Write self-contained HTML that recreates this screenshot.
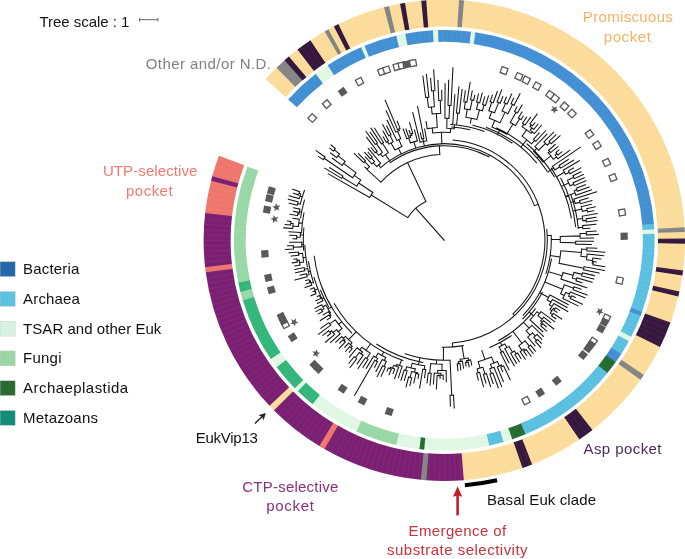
<!DOCTYPE html>
<html><head><meta charset="utf-8"><title>Phylogenetic tree</title>
<style>
html,body{margin:0;padding:0;background:#fff}
body{width:685px;height:559px;overflow:hidden;position:relative;font-family:"Liberation Sans",sans-serif}
svg{position:absolute;left:0;top:0;display:block}
text{font-family:"Liberation Sans",sans-serif}
</style></head><body>
<svg width="685" height="559" viewBox="0 0 685 559">
<rect width="685" height="559" fill="#fff"/>
<g id="rings">
<path d="M265.57 79.08A240.7 240.7 0 0 1 276.94 67.3L295.72 86.71A213.7 213.7 0 0 0 285.61 97.17Z" fill="#fbdc9b"/>
<path d="M276.49 67.74A240.7 240.7 0 0 1 284.96 59.89L302.84 80.12A213.7 213.7 0 0 0 295.32 87.1Z" fill="#858585"/>
<path d="M284.49 60.3A240.7 240.7 0 0 1 289.42 56.05L306.79 76.72A213.7 213.7 0 0 0 302.42 80.5Z" fill="#36173e"/>
<path d="M288.94 56.45A240.7 240.7 0 0 1 297.94 49.21L314.36 70.65A213.7 213.7 0 0 0 306.37 77.08Z" fill="#fbdc9b"/>
<path d="M297.44 49.6A240.7 240.7 0 0 1 310.92 39.93L325.88 62.41A213.7 213.7 0 0 0 313.91 70.99Z" fill="#36173e"/>
<path d="M310.4 40.28A240.7 240.7 0 0 1 325.23 31.12L338.58 54.58A213.7 213.7 0 0 0 325.42 62.72Z" fill="#fbdc9b"/>
<path d="M324.68 31.43A240.7 240.7 0 0 1 328.89 29.07L341.84 52.76A213.7 213.7 0 0 0 338.1 54.86Z" fill="#858585"/>
<path d="M328.34 29.37A240.7 240.7 0 0 1 334.46 26.12L346.78 50.15A213.7 213.7 0 0 0 341.35 53.03Z" fill="#fbdc9b"/>
<path d="M333.9 26.41A240.7 240.7 0 0 1 338.97 23.87L350.79 48.15A213.7 213.7 0 0 0 346.29 50.4Z" fill="#36173e"/>
<path d="M338.41 24.14A240.7 240.7 0 0 1 384.64 7.11L391.34 33.27A213.7 213.7 0 0 0 350.28 48.39Z" fill="#fbdc9b"/>
<path d="M384.03 7.27A240.7 240.7 0 0 1 389.54 5.91L395.68 32.2A213.7 213.7 0 0 0 390.79 33.41Z" fill="#858585"/>
<path d="M388.93 6.06A240.7 240.7 0 0 1 400.64 3.59L405.54 30.14A213.7 213.7 0 0 0 395.14 32.33Z" fill="#fbdc9b"/>
<path d="M400.02 3.71A240.7 240.7 0 0 1 405.61 2.73L409.95 29.38A213.7 213.7 0 0 0 404.99 30.25Z" fill="#36173e"/>
<path d="M404.99 2.83A240.7 240.7 0 0 1 421.86 0.65L424.37 27.53A213.7 213.7 0 0 0 409.4 29.47Z" fill="#fbdc9b"/>
<path d="M421.23 0.71A240.7 240.7 0 0 1 426.88 0.23L428.83 27.16A213.7 213.7 0 0 0 423.82 27.58Z" fill="#36173e"/>
<path d="M426.25 0.28A240.7 240.7 0 0 1 459.62 0.09L457.9 27.03A213.7 213.7 0 0 0 428.28 27.2Z" fill="#fbdc9b"/>
<path d="M458.99 0.05A240.7 240.7 0 0 1 464.65 0.46L462.37 27.37A213.7 213.7 0 0 0 457.35 27Z" fill="#858585"/>
<path d="M464.02 0.41A240.7 240.7 0 0 1 684.68 227.91L657.72 229.3A213.7 213.7 0 0 0 461.81 27.32Z" fill="#fbdc9b"/>
<path d="M684.65 227.28A240.7 240.7 0 0 1 684.87 232.53L657.89 233.4A213.7 213.7 0 0 0 657.69 228.74Z" fill="#858585"/>
<path d="M684.85 231.9A240.7 240.7 0 0 1 685 239.25L658 239.37A213.7 213.7 0 0 0 657.87 232.84Z" fill="#fbdc9b"/>
<path d="M684.99 238.62A240.7 240.7 0 0 1 684.97 244.29L657.97 243.84A213.7 213.7 0 0 0 657.99 238.81Z" fill="#36173e"/>
<path d="M684.98 243.66A240.7 240.7 0 0 1 683.02 271.09L656.24 267.64A213.7 213.7 0 0 0 657.98 243.28Z" fill="#fbdc9b"/>
<path d="M683.1 270.47A240.7 240.7 0 0 1 682.32 276.09L655.63 272.07A213.7 213.7 0 0 0 656.31 267.08Z" fill="#36173e"/>
<path d="M682.42 275.46A240.7 240.7 0 0 1 679.34 292.19L652.97 286.37A213.7 213.7 0 0 0 655.71 271.52Z" fill="#fbdc9b"/>
<path d="M679.47 291.58A240.7 240.7 0 0 1 678.2 297.1L651.96 290.73A213.7 213.7 0 0 0 653.09 285.82Z" fill="#36173e"/>
<path d="M678.35 296.49A240.7 240.7 0 0 1 670.27 323.22L644.92 313.92A213.7 213.7 0 0 0 652.1 290.19Z" fill="#fbdc9b"/>
<path d="M670.48 322.62A240.7 240.7 0 0 1 659.8 347.51L635.63 335.49A213.7 213.7 0 0 0 645.11 313.39Z" fill="#36173e"/>
<path d="M660.08 346.95A240.7 240.7 0 0 1 643.5 375.42L621.15 360.26A213.7 213.7 0 0 0 635.88 334.98Z" fill="#fbdc9b"/>
<path d="M643.85 374.9A240.7 240.7 0 0 1 640.14 380.25L618.17 364.55A213.7 213.7 0 0 0 621.47 359.8Z" fill="#858585"/>
<path d="M640.5 379.73A240.7 240.7 0 0 1 591.99 430.36L575.43 409.04A213.7 213.7 0 0 0 618.49 364.09Z" fill="#fbdc9b"/>
<path d="M592.49 429.97A240.7 240.7 0 0 1 578.9 439.85L563.8 417.47A213.7 213.7 0 0 0 575.87 408.7Z" fill="#36173e"/>
<path d="M579.42 439.5A240.7 240.7 0 0 1 531.54 464.63L521.75 439.47A213.7 213.7 0 0 0 564.26 417.15Z" fill="#fbdc9b"/>
<path d="M532.13 464.41A240.7 240.7 0 0 1 521.87 468.16L513.17 442.6A213.7 213.7 0 0 0 522.27 439.27Z" fill="#36173e"/>
<path d="M522.47 467.95A240.7 240.7 0 0 1 463.19 480.26L461.07 453.34A213.7 213.7 0 0 0 513.7 442.42Z" fill="#fbdc9b"/>
<path d="M463.81 480.21A240.7 240.7 0 0 1 425.83 480.29L427.91 453.37A213.7 213.7 0 0 0 461.62 453.3Z" fill="#7b1f72"/>
<path d="M426.46 480.34A240.7 240.7 0 0 1 420.18 479.79L422.89 452.92A213.7 213.7 0 0 0 428.46 453.41Z" fill="#858585"/>
<path d="M420.81 479.85A240.7 240.7 0 0 1 323.95 448.75L337.45 425.37A213.7 213.7 0 0 0 423.45 452.98Z" fill="#7b1f72"/>
<path d="M324.5 449.07A240.7 240.7 0 0 1 318.71 445.64L332.8 422.61A213.7 213.7 0 0 0 337.93 425.65Z" fill="#ee766c"/>
<path d="M319.25 445.97A240.7 240.7 0 0 1 273.51 409.91L292.66 390.88A213.7 213.7 0 0 0 333.28 422.9Z" fill="#7b1f72"/>
<path d="M273.95 410.35A240.7 240.7 0 0 1 269.13 405.38L288.77 386.86A213.7 213.7 0 0 0 293.06 391.28Z" fill="#fbdc9b"/>
<path d="M269.56 405.83A240.7 240.7 0 0 1 205.66 271.72L232.43 268.19A213.7 213.7 0 0 0 289.16 387.27Z" fill="#7b1f72"/>
<path d="M205.74 272.34A240.7 240.7 0 0 1 205.03 266.5L231.87 263.56A213.7 213.7 0 0 0 232.5 268.75Z" fill="#ee766c"/>
<path d="M205.1 267.13A240.7 240.7 0 0 1 205.22 212.43L232.04 215.55A213.7 213.7 0 0 0 231.93 264.12Z" fill="#7b1f72"/>
<path d="M205.15 213.05A240.7 240.7 0 0 1 211.21 180.24L237.36 186.97A213.7 213.7 0 0 0 231.97 216.11Z" fill="#ee766c"/>
<path d="M211.06 180.85A240.7 240.7 0 0 1 212.47 175.57L238.47 182.83A213.7 213.7 0 0 0 237.22 187.52Z" fill="#7b1f72"/>
<path d="M212.3 176.18A240.7 240.7 0 0 1 218.92 155.81L244.2 165.29A213.7 213.7 0 0 0 238.32 183.37Z" fill="#ee766c"/>
<path d="M288.14 99.45A210.3 210.3 0 0 1 316.13 73.57L323.32 82.92A198.5 198.5 0 0 0 296.9 107.35Z" fill="#428fd3"/>
<path d="M315.7 73.91A210.3 210.3 0 0 1 328.07 65.04L334.6 74.87A198.5 198.5 0 0 0 322.91 83.24Z" fill="#e0f7e4"/>
<path d="M327.62 65.34A210.3 210.3 0 0 1 361.62 46.93L366.26 57.78A198.5 198.5 0 0 0 334.16 75.16Z" fill="#428fd3"/>
<path d="M361.12 47.15A210.3 210.3 0 0 1 365.01 45.52L369.46 56.45A198.5 198.5 0 0 0 365.78 57.99Z" fill="#e0f7e4"/>
<path d="M364.5 45.73A210.3 210.3 0 0 1 396.81 35.43L399.48 46.93A198.5 198.5 0 0 0 368.98 56.65Z" fill="#428fd3"/>
<path d="M396.28 35.56A210.3 210.3 0 0 1 405.8 33.56L407.96 45.16A198.5 198.5 0 0 0 398.97 47.04Z" fill="#e0f7e4"/>
<path d="M405.25 33.66A210.3 210.3 0 0 1 433.48 30.28L434.08 42.06A198.5 198.5 0 0 0 407.45 45.25Z" fill="#428fd3"/>
<path d="M432.93 30.31A210.3 210.3 0 0 1 438.61 30.08L438.93 41.87A198.5 198.5 0 0 0 433.57 42.09Z" fill="#e0f7e4"/>
<path d="M438.06 30.09A210.3 210.3 0 0 1 471.57 31.78L470.04 43.48A198.5 198.5 0 0 0 438.41 41.89Z" fill="#428fd3"/>
<path d="M471.02 31.7A210.3 210.3 0 0 1 475.93 32.39L474.15 44.06A198.5 198.5 0 0 0 469.52 43.41Z" fill="#e0f7e4"/>
<path d="M475.38 32.31A210.3 210.3 0 0 1 653.99 224.35L642.23 225.24A198.5 198.5 0 0 0 473.64 43.98Z" fill="#428fd3"/>
<path d="M653.95 223.8A210.3 210.3 0 0 1 654.34 229.84L642.55 230.43A198.5 198.5 0 0 0 642.19 224.73Z" fill="#5bc0e0"/>
<path d="M654.31 229.29A210.3 210.3 0 0 1 654.51 234.24L642.72 234.58A198.5 198.5 0 0 0 642.53 229.91Z" fill="#e0f7e4"/>
<path d="M654.5 233.69A210.3 210.3 0 0 1 641.85 312.4L630.77 308.35A198.5 198.5 0 0 0 642.7 234.06Z" fill="#5bc0e0"/>
<path d="M642.04 311.88A210.3 210.3 0 0 1 640.43 316.18L629.43 311.92A198.5 198.5 0 0 0 630.95 307.87Z" fill="#428fd3"/>
<path d="M640.63 315.66A210.3 210.3 0 0 1 630.92 337.24L620.45 331.8A198.5 198.5 0 0 0 629.62 311.44Z" fill="#5bc0e0"/>
<path d="M631.18 336.75A210.3 210.3 0 0 1 628.5 341.77L618.16 336.08A198.5 198.5 0 0 0 620.69 331.34Z" fill="#e0f7e4"/>
<path d="M628.76 341.29A210.3 210.3 0 0 1 620.97 354.38L611.06 347.97A198.5 198.5 0 0 0 618.41 335.62Z" fill="#5bc0e0"/>
<path d="M621.27 353.91A210.3 210.3 0 0 1 615.4 362.57L605.8 355.71A198.5 198.5 0 0 0 611.34 347.54Z" fill="#428fd3"/>
<path d="M615.72 362.12A210.3 210.3 0 0 1 607.15 373.36L598.02 365.89A198.5 198.5 0 0 0 606.1 355.29Z" fill="#246b2f"/>
<path d="M607.5 372.93A210.3 210.3 0 0 1 524.95 434.52L520.42 423.62A198.5 198.5 0 0 0 598.35 365.49Z" fill="#5bc0e0"/>
<path d="M525.46 434.31A210.3 210.3 0 0 1 511.72 439.5L507.94 428.32A198.5 198.5 0 0 0 520.9 423.42Z" fill="#246b2f"/>
<path d="M512.25 439.32A210.3 210.3 0 0 1 502.97 442.25L499.68 430.92A198.5 198.5 0 0 0 508.43 428.15Z" fill="#e0f7e4"/>
<path d="M503.5 442.1A210.3 210.3 0 0 1 488.74 445.85L486.25 434.32A198.5 198.5 0 0 0 500.18 430.77Z" fill="#5bc0e0"/>
<path d="M489.28 445.73A210.3 210.3 0 0 1 423.6 449.58L424.76 437.84A198.5 198.5 0 0 0 486.76 434.21Z" fill="#e0f7e4"/>
<path d="M424.14 449.63A210.3 210.3 0 0 1 418.85 449.05L420.28 437.34A198.5 198.5 0 0 0 425.27 437.89Z" fill="#246b2f"/>
<path d="M419.4 449.12A210.3 210.3 0 0 1 395.74 444.92L398.47 433.44A198.5 198.5 0 0 0 420.8 437.4Z" fill="#e0f7e4"/>
<path d="M396.28 445.04A210.3 210.3 0 0 1 355.92 431.13L360.88 420.42A198.5 198.5 0 0 0 398.97 433.56Z" fill="#98d8a6"/>
<path d="M356.42 431.36A210.3 210.3 0 0 1 312.1 403.85L319.51 394.67A198.5 198.5 0 0 0 361.35 420.64Z" fill="#e0f7e4"/>
<path d="M312.53 404.19A210.3 210.3 0 0 1 297.42 390.81L305.66 382.37A198.5 198.5 0 0 0 319.92 395Z" fill="#33b679"/>
<path d="M297.82 391.19A210.3 210.3 0 0 1 294.43 387.83L302.84 379.55A198.5 198.5 0 0 0 306.04 382.73Z" fill="#e0f7e4"/>
<path d="M294.82 388.22A210.3 210.3 0 0 1 276.24 366.72L285.67 359.62A198.5 198.5 0 0 0 303.21 379.92Z" fill="#33b679"/>
<path d="M276.57 367.15A210.3 210.3 0 0 1 270.47 358.66L280.22 352.02A198.5 198.5 0 0 0 285.98 360.04Z" fill="#e0f7e4"/>
<path d="M270.78 359.11A210.3 210.3 0 0 1 242.61 299.85L253.93 296.51A198.5 198.5 0 0 0 280.51 352.45Z" fill="#33b679"/>
<path d="M242.76 300.38A210.3 210.3 0 0 1 240.29 291.35L251.74 288.49A198.5 198.5 0 0 0 254.07 297.01Z" fill="#98d8a6"/>
<path d="M240.43 291.89A210.3 210.3 0 0 1 238.19 282.05L249.75 279.7A198.5 198.5 0 0 0 251.87 288.99Z" fill="#33b679"/>
<path d="M238.3 282.59A210.3 210.3 0 0 1 247.38 166.48L258.43 170.62A198.5 198.5 0 0 0 249.85 280.21Z" fill="#98d8a6"/>
<path d="M288.65 93.43L269.45 75.32M299.71 103.87L291.56 96.18M291.99 89.98L273.2 71.43M302.81 100.65L294.84 92.79M295.4 86.59L277.04 67.63M305.98 97.51L298.19 89.47M298.89 83.29L280.96 63.92M309.22 94.44L301.61 86.22M302.46 80.06L284.96 60.29M312.53 91.44L305.11 83.06M306.09 76.92L289.04 56.76M315.91 88.52L308.68 79.97M309.8 73.85L293.2 53.32M319.35 85.67L312.31 76.96M313.57 70.87L297.44 49.97M322.85 82.91L316.01 74.04M317.41 67.98L301.75 46.72M326.42 80.22L319.78 71.2M321.31 65.17L306.14 43.57M330.05 77.61L323.61 68.45M325.27 62.45L310.59 40.51M333.73 75.09L327.5 65.78M329.3 59.83L315.11 37.56M337.47 72.64L331.45 63.2M333.38 57.29L319.7 34.71M341.26 70.29L335.45 60.71M337.52 54.84L324.35 31.96M345.1 68.02L339.52 58.31M341.71 52.49L329.06 29.32M349 65.83L343.63 56M345.96 50.24L333.82 26.79M352.94 63.74L347.79 53.79M350.25 48.07L338.65 24.36M356.93 61.73L352.01 51.67M354.59 46.01L343.52 22.04M360.96 59.81L356.27 49.64M358.98 44.04L348.45 19.83M365.04 57.98L360.57 47.71M363.41 42.18L353.43 17.74M369.15 56.25L364.92 45.88M367.88 40.41L358.45 15.75M373.31 54.61L369.31 44.15M372.39 38.74L363.52 13.88M377.49 53.06L373.73 42.51M376.93 37.18L368.62 12.12M381.72 51.61L378.19 40.98M381.51 35.72L373.77 10.48M385.97 50.25L382.68 39.54M386.12 34.36L378.94 8.95M390.25 48.99L387.21 38.21M390.76 33.11L384.16 7.54M394.56 47.82L391.76 36.98M395.43 31.95L389.4 6.25M398.9 46.75L396.34 35.85M400.12 30.91L394.67 5.08M403.26 45.78L400.95 34.82M404.84 29.97L399.97 4.02M407.64 44.91L405.57 33.9M409.57 29.14L405.28 3.09M412.04 44.14L410.22 33.08M414.32 28.41L410.62 2.27M416.45 43.46L414.88 32.37M419.09 27.79L415.98 1.57M420.88 42.88L419.56 31.76M423.87 27.28L421.35 1M425.32 42.41L424.25 31.26M428.66 26.87L426.73 0.54M429.77 42.03L428.95 30.86M433.45 26.58L432.12 0.21M434.22 41.76L433.66 30.57M438.26 26.39L437.51 -0M438.69 41.58L438.37 30.38M443.06 26.3L442.91 -0.1M443.15 41.5L443.09 30.3M447.87 26.33L448.31 -0.07M447.62 41.53L447.8 30.33M452.68 26.46L453.71 0.08M452.08 41.65L452.52 30.46M457.48 26.71L459.1 0.36M456.54 41.88L457.23 30.7M462.27 27.06L464.49 0.75M460.99 42.2L461.93 31.04M467.06 27.51L469.86 1.26M465.44 42.63L466.63 31.49M471.83 28.08L475.23 1.9M469.87 43.15L471.31 32.04M476.59 28.75L480.57 2.65M474.3 43.78L475.99 32.7M481.33 29.53L485.9 3.53M478.7 44.5L480.64 33.47M486.06 30.41L491.21 4.52M483.09 45.32L485.28 34.34M490.76 31.4L496.49 5.63M487.46 46.24L489.89 35.31M495.44 32.5L501.75 6.87M491.81 47.26L494.48 36.38M500.09 33.7L506.98 8.21M496.13 48.38L499.05 37.56M504.72 35.01L512.17 9.68M500.43 49.59L503.59 38.84M509.32 36.42L517.34 11.26M504.7 50.9L508.1 40.23M513.88 37.93L522.46 12.96M508.94 52.3L512.58 41.71M518.41 39.54L527.55 14.77M513.14 53.8L517.02 43.29M522.9 41.26L532.59 16.7M517.32 55.39L521.43 44.98M527.35 43.07L537.59 18.74M521.45 57.08L525.8 46.76M531.76 44.99L542.55 20.89M525.55 58.86L530.12 48.64M536.12 47L547.45 23.15M529.6 60.73L534.41 50.61M540.44 49.11L552.3 25.53M533.61 62.69L538.64 52.69M544.71 51.32L557.1 28.01M537.58 64.74L542.83 54.85M548.93 53.62L561.84 30.59M541.5 66.88L546.97 57.11M553.1 56.02L566.52 33.29M545.37 69.11L551.06 59.46M557.21 58.51L571.14 36.08M549.19 71.42L555.1 61.91M561.26 61.09L575.69 38.98M552.96 73.82L559.08 64.44M565.26 63.76L580.18 41.99M556.67 76.3L563 67.06M569.19 66.53L584.6 45.09M560.32 78.87L566.86 69.77M573.06 69.37L588.95 48.29M563.92 81.51L570.66 72.57M576.87 72.31L593.23 51.59M567.45 84.24L574.39 75.45M580.61 75.33L597.43 54.98M570.93 87.05L578.06 78.41M584.28 78.43L601.55 58.46M574.34 89.93L581.67 81.46M587.88 81.62L605.6 62.04M577.68 92.89L585.2 84.58M591.41 84.88L609.56 65.71M580.96 95.92L588.66 87.79M594.86 88.23L613.44 69.47M584.17 99.03L592.05 91.07M598.24 91.65L617.23 73.31M587.31 102.2L595.36 94.42M601.54 95.14L620.94 77.23M590.37 105.45L598.6 97.85M604.76 98.71L624.56 81.24M593.36 108.77L601.76 101.36M607.9 102.35L628.08 85.33M596.28 112.15L604.84 104.93M610.96 106.06L631.52 89.5M599.12 115.59L607.84 108.57M613.93 109.84L634.86 93.74M601.88 119.1L610.76 112.27M616.82 113.68L638.1 98.06M604.57 122.67L613.59 116.05M619.62 117.59L641.25 102.45M607.17 126.3L616.34 119.88M622.33 121.55L644.29 106.9M609.69 129.99L619 123.77M624.95 125.58L647.24 111.43M612.12 133.73L621.58 127.73M627.49 129.67L650.08 116.02M614.47 137.53L624.06 131.74M629.92 133.81L652.82 120.67M616.74 141.38L626.45 135.8M632.27 138.01L655.46 125.39M618.92 145.27L628.76 139.92M634.52 142.26L657.99 130.16M621.01 149.22L630.96 144.09M636.67 146.55L660.41 134.99M623.01 153.21L633.08 148.3M638.73 150.9L662.72 139.87M624.92 157.25L635.1 152.57M640.69 155.29L664.92 144.8M626.74 161.32L637.02 156.88M642.55 159.72L667.01 149.78M628.47 165.44L638.84 161.22M644.31 164.19L668.98 154.8M630.1 169.6L640.57 165.61M645.97 168.7L670.85 159.87M631.64 173.79L642.2 170.04M647.53 173.25L672.6 164.98M633.09 178.01L643.73 174.5M648.98 177.83L674.23 170.13M634.44 182.27L645.15 179M650.33 182.45L675.75 175.31M635.7 186.55L646.48 183.53M651.58 187.09L677.15 180.52M636.86 190.87L647.7 188.08M652.72 191.76L678.43 185.77M637.92 195.2L648.83 192.66M653.76 196.45L679.6 191.04M638.88 199.56L649.84 197.27M654.69 201.17L680.65 196.34M639.75 203.95L650.76 201.9M655.52 205.9L681.57 201.66M640.51 208.34L651.57 206.54M656.24 210.65L682.38 207M641.18 212.76L652.28 211.21M656.85 215.42L683.07 212.35M641.75 217.19L652.88 215.89M657.35 220.2L683.64 217.72M642.22 221.63L653.37 220.58M657.75 224.99L684.08 223.1M642.59 226.08L653.76 225.28M658.04 229.79L684.41 228.49M642.86 230.54L654.05 229.99M658.22 234.59L684.61 233.89M643.03 235L654.23 234.7M658.3 239.4L684.7 239.29M643.1 239.46L654.3 239.42M658.26 244.21L684.66 244.69M643.07 243.93L654.27 244.13M658.12 249.01L684.5 250.09M642.94 248.39L654.13 248.85M657.87 253.81L684.22 255.48M642.7 252.85L653.88 253.56M657.52 258.61L683.82 260.86M642.37 257.31L653.53 258.26M657.05 263.39L683.3 266.24M641.94 261.75L653.07 262.96M656.48 268.16L682.65 271.6M641.41 266.18L652.51 267.64M655.8 272.92L681.89 276.95M640.78 270.6L651.85 272.31M655.01 277.66L681.01 282.27M640.05 275.01L651.07 276.96M654.12 282.39L680.01 287.58M639.22 279.4L650.2 281.6M653.12 287.09L678.88 292.86M638.29 283.77L649.22 286.21M652.02 291.77L677.64 298.12M637.27 288.11L648.14 290.8M650.81 296.42L676.29 303.34M636.14 292.43L646.95 295.37M649.5 301.04L674.81 308.54M634.92 296.73L645.66 299.91M648.08 305.64L673.22 313.7M633.61 301L644.27 304.42M646.56 310.2L671.52 318.82M632.2 305.23L642.78 308.89M644.94 314.72L669.69 323.9M630.69 309.44L641.19 313.33M643.22 319.21L667.76 328.95M629.09 313.61L639.5 317.74M641.4 323.66L665.71 333.94M627.4 317.74L637.71 322.1M639.48 328.06L663.55 338.89M625.61 321.83L635.83 326.42M637.45 332.43L661.28 343.79M623.74 325.88L633.84 330.7M635.34 336.74L658.9 348.64M621.77 329.89L631.77 334.94M633.12 341.01L656.42 353.43M619.71 333.85L629.59 339.13M630.81 345.22L653.82 358.17M617.57 337.77L627.33 343.26M628.41 349.39L651.12 362.84M615.33 341.64L624.97 347.35M625.91 353.49L648.32 367.46M613.01 345.45L622.52 351.38M623.32 357.54L645.41 372.01M610.61 349.22L619.98 355.35M620.65 361.54L642.4 376.49M608.12 352.92L617.35 359.27M617.88 365.47L639.29 380.91M605.55 356.58L614.63 363.13M615.02 369.33L636.08 385.25M602.9 360.17L611.83 366.92M612.08 373.13L632.78 389.52M600.17 363.7L608.95 370.65M609.06 376.87L629.38 393.72M597.35 367.17L605.98 374.32M605.95 380.54L625.89 397.84M594.47 370.58L602.93 377.91M602.76 384.13L622.3 401.87M591.5 373.92L599.8 381.44M599.49 387.65L618.63 405.83M588.46 377.19L596.59 384.9M596.14 391.1L614.87 409.71M585.35 380.39L593.3 388.28M592.71 394.47L611.02 413.49M582.17 383.52L589.94 391.59M589.21 397.77L607.09 417.2M578.92 386.58L586.5 394.83M585.64 400.98L603.07 420.81M575.6 389.57L583 397.98M581.99 404.12L598.98 424.33M572.21 392.48L579.42 401.06M578.28 407.17L594.81 427.76M568.76 395.32L575.78 404.05M574.5 410.14L590.56 431.09M565.25 398.07L572.06 406.96M570.65 413.02L586.24 434.33M561.68 400.75L568.29 409.79M566.74 415.81L581.84 437.46M558.04 403.35L564.45 412.53M562.77 418.52L577.38 440.5M554.35 405.86L560.55 415.19M558.73 421.13L572.85 443.44M550.61 408.29L556.59 417.75M554.64 423.66L568.26 446.28M546.81 410.64L552.58 420.23M550.5 426.09L563.6 449.01M542.95 412.89L548.51 422.62M546.3 428.43L558.88 451.64M539.05 415.07L544.39 424.91M542.05 430.67L554.1 454.16M535.1 417.15L540.22 427.11M537.75 432.82L549.27 456.57M531.11 419.15L536 429.22M533.4 434.87L544.39 458.87M527.07 421.05L531.73 431.23M529.01 436.82L539.45 461.07M522.99 422.86L527.42 433.15M524.57 438.68L534.47 463.15M518.87 424.59L523.07 434.97M520.09 440.43L529.44 465.12M514.71 426.21L518.68 436.69M515.58 442.08L524.37 466.97M510.52 427.75L514.25 438.31M511.03 443.63L519.26 468.71M506.29 429.19L509.78 439.83M506.45 445.08L514.11 470.34M502.03 430.53L505.28 441.25M501.83 446.42L508.93 471.85M497.74 431.78L500.76 442.57M497.19 447.66L503.71 473.24M493.43 432.93L496.2 443.79M492.52 448.8L498.46 474.52M489.09 433.99L491.61 444.9M487.82 449.83L493.19 475.68M484.73 434.95L487.01 445.91M483.1 450.75L487.89 476.71M480.35 435.8L482.38 446.82M478.37 451.57L482.57 477.63M475.95 436.56L477.73 447.62M473.61 452.28L477.23 478.43M471.53 437.23L473.07 448.32M468.84 452.89L471.87 479.11M467.1 437.79L468.39 448.91M464.06 453.39L466.5 479.67M462.66 438.25L463.69 449.4M459.27 453.78L461.12 480.11M458.21 438.61L458.99 449.79M454.47 454.06L455.73 480.43M453.75 438.88L454.28 450.06M449.67 454.23L450.33 480.62M449.29 439.04L449.57 450.23M444.86 454.3L444.93 480.7M444.82 439.1L444.85 450.3M440.06 454.26L439.53 480.65M440.36 439.06L440.14 450.26M435.25 454.11L434.14 480.49M435.9 438.92L435.42 450.11M430.45 453.85L428.74 480.2M431.44 438.68L430.71 449.86M425.66 453.49L423.36 479.79M426.98 438.34L426.01 449.5M420.88 453.01L417.99 479.26M422.54 437.91L421.31 449.04M416.1 452.43L412.63 478.6M418.11 437.37L416.63 448.47M411.35 451.75L407.28 477.83M413.69 436.73L411.96 447.8M406.61 450.95L401.96 476.94M409.28 435.99L407.31 447.02M401.88 450.05L396.65 475.93M404.9 435.16L402.68 446.13M397.18 449.05L391.37 474.8M400.53 434.22L398.06 445.15M392.51 447.94L386.12 473.55M396.19 433.19L393.48 444.06M387.86 446.72L380.89 472.19M391.87 432.06L388.91 442.86M383.23 445.4L375.7 470.7M387.57 430.83L384.38 441.57M378.64 443.98L370.54 469.11M383.31 429.51L379.87 440.17M374.08 442.45L365.42 467.39M379.07 428.09L375.4 438.67M369.56 440.82L360.34 465.56M374.87 426.58L370.96 437.08M365.08 439.1L355.3 463.62M370.7 424.98L366.56 435.38M360.63 437.27L350.31 461.56M366.57 423.28L362.2 433.58M356.23 435.34L345.36 459.4M362.48 421.48L357.88 431.69M351.87 433.31L340.47 457.12M358.44 419.6L353.6 429.7M347.56 431.19L335.62 454.73M354.43 417.63L349.37 427.62M343.3 428.96L330.84 452.24M350.47 415.56L345.18 425.44M339.08 426.65L326.1 449.64M346.56 413.41L341.05 423.16M334.93 424.24L321.43 446.93M342.69 411.17L336.97 420.8M330.82 421.73L316.82 444.12M338.88 408.85L332.94 418.34M326.77 419.14L312.28 441.2M335.12 406.44L328.97 415.8M322.79 416.46L307.8 438.19M331.42 403.94L325.06 413.16M318.86 413.68L303.39 435.07M327.77 401.37L321.21 410.44M315 410.82L299.05 431.86M324.18 398.71L317.42 407.63M311.2 407.87L294.78 428.55M320.66 395.97L313.69 404.74M307.47 404.84L290.59 425.14M317.19 393.15L310.03 401.77M303.81 401.73L286.48 421.64M313.79 390.26L306.44 398.71M300.22 398.53L282.45 418.05M310.45 387.29L302.91 395.57M296.7 395.25L278.49 414.37M307.19 384.25L299.46 392.36M293.26 391.9L274.63 410.6M303.99 381.13L296.08 389.07M289.89 388.47L270.84 406.75M300.86 377.95L292.78 385.7M286.6 384.96L267.15 402.81M297.8 374.69L289.55 382.26M283.39 381.39L263.54 398.79M294.82 371.36L286.4 378.75M280.27 377.74L260.03 394.69M291.92 367.97L283.33 375.17M277.22 374.02L256.61 390.51M289.09 364.52L280.34 371.52M274.26 370.23L253.28 386.26M286.34 361L277.44 367.8M271.38 366.38L250.05 381.93M283.67 357.42L274.62 364.02M268.6 362.46L246.92 377.53M281.08 353.79L271.88 360.18M265.9 358.49L243.89 373.07M278.57 350.09L269.23 356.28M263.29 354.45L240.96 368.53M276.14 346.34L266.67 352.32M260.77 350.35L238.13 363.93M273.8 342.54L264.2 348.3M258.34 346.2L235.4 359.27M271.55 338.68L261.82 344.23M256.01 342L232.78 354.55M269.38 334.78L259.53 340.1M253.77 337.75L230.27 349.77M267.31 330.83L257.34 335.93M251.63 333.44L227.87 344.93M265.32 326.83L255.23 331.7M249.59 329.09L225.57 340.05M263.42 322.79L253.23 327.43M247.64 324.7L223.38 335.11M261.61 318.7L251.32 323.12M245.8 320.26L221.31 330.12M259.9 314.58L249.51 318.76M244.05 315.78L219.35 325.09M258.28 310.42L247.8 314.37M242.41 311.26L217.5 320.02M256.75 306.22L246.18 309.94M240.87 306.71L215.77 314.9M255.31 301.99L244.67 305.47M239.42 302.12L214.15 309.75M253.98 297.73L243.25 300.97M238.09 297.51L212.65 304.56M252.73 293.44L241.94 296.44M236.86 292.86L211.26 299.35M251.59 289.13L240.73 291.88M235.73 288.19L210 294.1M250.54 284.79L239.63 287.29M234.7 283.49L208.85 288.82M249.59 280.42L238.62 282.68M233.79 278.77L207.82 283.52M248.74 276.04L237.72 278.05M232.98 274.04L206.91 278.2M247.99 271.64L236.93 273.4M232.27 269.28L206.11 272.86M247.33 267.22L236.23 268.74M231.67 264.51L205.44 267.5M246.78 262.79L235.65 264.06M231.18 259.73L204.89 262.13M246.32 258.35L235.17 259.37M230.8 254.94L204.46 256.74M245.97 253.9L234.79 254.66M230.53 250.14L204.15 251.35M245.71 249.44L234.52 249.95M230.36 245.33L203.97 245.96M245.56 244.98L234.36 245.24M230.3 240.53L203.9 240.56M245.5 240.51L234.3 240.52M230.35 235.72L203.96 235.16M245.55 236.05L234.35 235.81M230.51 230.92L204.13 229.76M245.69 231.58L234.5 231.09M230.77 226.12L204.43 224.37M245.94 227.12L234.76 226.38M231.14 221.32L204.85 218.98M246.28 222.67L235.13 221.68M231.62 216.54L205.39 213.61M246.73 218.23L235.6 216.99M232.21 211.77L206.05 208.25M247.27 213.8L236.17 212.3M232.9 207.01L206.83 202.91M247.92 209.38L236.86 207.64M233.71 202.28L207.73 197.58M248.66 204.98L237.64 202.99M234.61 197.55L208.74 192.28M249.51 200.59L238.53 198.35M235.63 192.86L209.88 187M250.45 196.23L239.53 193.74M236.74 188.18L211.14 181.75M251.49 191.88L240.62 189.16M237.97 183.53L212.51 176.53M252.62 187.56L241.82 184.59M239.29 178.91L214 171.34M253.86 183.27L243.13 180.06M240.72 174.32L215.61 166.18M255.18 179.01L244.53 175.56M242.26 169.77L217.33 161.07M256.61 174.78L246.03 171.09" stroke="#fff" stroke-opacity="0.13" stroke-width="0.4" fill="none"/>
</g>
<g id="tree">
<path d="M444.3 240.3L415.7 208.19M407.75 217.64A43 43 0 0 1 425.92 201.42M407.75 217.64L371.21 194.98M425.92 201.42L407.55 162.55M380.89 182.2A86 86 0 0 1 439.8 154.42M380.89 182.2L366.89 169.36M439.8 154.42L439.35 145.83M390.04 162.81A94.6 94.6 0 0 1 488.71 156.77M380.29 167.95A96.6 96.6 0 0 1 534.48 205.68M488.71 156.77L489.65 155.01M453.07 140.08A100.6 100.6 0 0 1 512.91 313.87M534.48 205.68L538.22 204.25M546.74 229.53A103 103 0 0 1 452.38 342.98M512.91 313.87L514.55 315.63M463.25 345.61A107 107 0 0 1 442.25 347.28M452.38 342.98L452.7 346.97M341.53 178.34A120 120 0 0 1 342.95 176.05M341.53 178.34L324.66 168.17M342.95 176.05L329.78 167.69M323.2 159.65A145.5 145.5 0 0 1 325.04 156.95M323.2 159.65L318.62 156.6M325.04 156.95L316.02 150.65M333.34 151.05A142.4 142.4 0 0 1 335.37 148.58M333.34 151.05L329.75 148.17M335.37 148.58L331.08 144.98M336.67 157.65A135.7 135.7 0 0 1 339.52 154.07M336.67 157.65L330.57 152.96M339.52 154.07L334.35 149.81M342.1 165.41A126.7 126.7 0 0 1 345.13 161.45M342.1 165.41L332.34 158.26M345.13 161.45L338.08 155.85M352.61 177.74A111 111 0 0 1 356.07 172.94M352.61 177.74L324.11 158.3M356.07 172.94L343.6 163.41M356.7 186.13A103 103 0 0 1 360.79 180M356.7 186.13L342.24 177.19M360.79 180L354.31 175.32M369.67 197.56A86 86 0 0 1 372.82 192.48M369.67 197.56L328.28 173.85M372.82 192.48L358.69 183.03M363.68 162.56A112 112 0 0 1 365.44 160.77M363.68 162.56L354.32 153.54M365.44 160.77L358.4 153.67M367.1 169.13A105 105 0 0 1 369.54 166.57M367.1 169.13L364.89 167.1M369.54 166.57L364.55 161.66M370.45 158.8A109.98 109.98 0 0 1 372.3 157.17M370.45 158.8L364.71 152.47M372.3 157.17L368.07 152.28M371.94 163.96A105.18 105.18 0 0 1 374.55 161.57M371.94 163.96L365.28 156.94M374.55 161.57L371.37 157.98M376.74 166.58A100 100 0 0 1 380.55 163.26M376.74 166.58L373.23 162.75M380.55 163.26L368.28 148.43M379.93 166.4L378.62 164.89M375.13 152.78A111.55 111.55 0 0 1 377.11 151.25M375.13 152.78L371.13 147.72M377.11 151.25L366.6 137.32M375.3 144.44A118.11 118.11 0 0 1 377.47 142.92M375.3 144.44L366.02 131.54M377.47 142.92L370.18 132.29M378.61 155.24A107.47 107.47 0 0 1 382.5 152.37M378.61 155.24L376.12 152.01M382.5 152.37L376.38 143.67M381.32 143.95A115.11 115.11 0 0 1 383.5 142.56M381.32 143.95L370.98 128.14M383.5 142.56L374.57 128.22M382.6 156.58A104 104 0 0 1 388.38 152.62M382.6 156.58L380.54 153.79M388.38 152.62L382.4 143.25M389.98 161.15L385.45 154.55M386.28 142.19A113.98 113.98 0 0 1 388.5 140.91M386.28 142.19L383.22 137.01M388.5 140.91L383.1 131.3M388.72 135.87A118.3 118.3 0 0 1 391.08 134.65M388.72 135.87L382.75 124.66M391.08 134.65L386.71 125.99M388.89 144.15A110.98 110.98 0 0 1 393.26 141.76M388.89 144.15L387.39 141.55M393.26 141.76L389.89 135.25M397.59 129.61A120.14 120.14 0 0 1 400.09 128.59M397.59 129.61L385.21 100.26M400.09 128.59L397.2 121.28M395.77 132.13A118.56 118.56 0 0 1 399.44 130.56M395.77 132.13L386.17 110.74M399.44 130.56L398.84 129.09M396.8 140.48A110.54 110.54 0 0 1 400.75 138.69M396.8 140.48L387.14 120.21M400.75 138.69L397.6 131.33M394.89 149.93A103 103 0 0 1 401.87 146.44M394.89 149.93L391.06 142.93M401.87 146.44L398.77 139.57M401.02 153.49L398.35 148.12M410.34 134.09A111.51 111.51 0 0 1 412.74 133.35M410.34 134.09L409.16 130.39M412.74 133.35L409.58 122.65M408.48 136.36A109.94 109.94 0 0 1 412 135.21M408.48 136.36L405.94 128.99M412 135.21L411.54 133.71M406.71 138.69A108.34 108.34 0 0 1 410.73 137.29M406.71 138.69L403.14 129.04M410.73 137.29L410.23 135.77M410.47 143.02A103 103 0 0 1 417.37 140.88M410.47 143.02L408.71 137.97M417.37 140.88L414.48 130.2M415.67 147.62L413.9 141.89M421.65 138.8A104 104 0 0 1 423.93 138.31M421.65 138.8L420.34 132.94M423.93 138.31L417.55 106.35M420.09 142.24A101 101 0 0 1 426.75 140.84M420.09 142.24L412.78 112.63M423.41 141.48L422.79 138.55M426.75 140.84L424.66 129.02M424.32 145.79L423.41 141.48M425.67 97.51A144 144 0 0 1 428.88 97.13M425.67 97.51L422.89 76.19M428.88 97.13L426.42 74.26M431.59 90.84A150 150 0 0 1 434.95 90.59M431.59 90.84L430.54 78.38M434.95 90.59L433.66 69.83M428.46 107.24A134 134 0 0 1 434.45 106.66M428.46 107.24L427.28 97.31M434.45 106.66L433.27 90.71M438.72 100.41A140 140 0 0 1 441.86 100.32M438.72 100.41L437.92 80.43M441.86 100.32L441.69 90.32M432.12 113.89A127 127 0 0 1 440.66 113.35M432.12 113.89L431.45 106.92M440.66 113.35L440.29 100.36M427.17 128.61A113 113 0 0 1 437.26 127.52M427.17 128.61L426.11 121.69M437.26 127.52L436.39 113.55M448.01 105.35A135 135 0 0 1 451.04 105.47M448.01 105.35L448.7 80.36M451.04 105.47L452.93 67.72M444.92 118.3A122 122 0 0 1 449.02 118.39M444.92 118.3L445.09 83.8M449.02 118.39L449.53 105.4M456.43 112.88A128 128 0 0 1 459.29 113.18M456.43 112.88L458.89 86.99M459.29 113.18L462.1 89.35M452.69 124.6A116 116 0 0 1 456.59 124.95M452.69 124.6L454.87 94.68M456.59 124.95L457.86 113.02M446.75 128.33A112 112 0 0 1 454.29 128.75M446.75 128.33L446.97 118.33M454.29 128.75L454.64 124.76M432.74 132.92A108 108 0 0 1 450.3 132.47M432.74 132.92L432.2 127.95M450.3 132.47L450.52 128.47M441.8 143.73L441.51 132.34M450.78 124.48A116 116 0 0 1 483.97 131.3M451.82 127.05A113.5 113.5 0 0 1 469.83 129.71M463.81 101.67A140 140 0 0 1 466.92 102.14M463.81 101.67L465.34 90.77M466.92 102.14L470.15 82.4M470.57 99.73A143 143 0 0 1 473.72 100.36M470.57 99.73L472.22 90.89M473.72 100.36L474.75 95.47M464.31 108.81A133 133 0 0 1 470.2 109.85M464.31 108.81L465.37 101.89M470.2 109.85L472.15 100.04M476.63 102.03A142 142 0 0 1 479.72 102.79M476.63 102.03L478.45 94.24M479.72 102.79L482.22 93.11M482.53 104.58A141 141 0 0 1 485.57 105.48M482.53 104.58L484.7 96.88M485.57 105.48L488.5 95.91M476.51 109.2A135 135 0 0 1 482.36 110.78M476.51 109.2L478.18 102.4M482.36 110.78L484.05 105.02M465.88 117.18A125 125 0 0 1 476.84 119.61M465.88 117.18L467.26 109.3M476.84 119.61L479.44 109.95M470.3 123.15L471.39 118.27M490.16 101.69A146 146 0 0 1 493.26 102.75M490.16 101.69L492.36 95.04M493.26 102.75L497.29 91.45M497.05 102.02A148 148 0 0 1 500.14 103.24M497.05 102.02L501.68 89.87M500.14 103.24L502.79 96.76M488.79 110.73A137 137 0 0 1 494.57 112.85M488.79 110.73L491.71 102.21M494.57 112.85L498.6 102.62M504 102.69A150 150 0 0 1 507.08 104.07M504 102.69L506.39 97.19M507.08 104.07L511.68 94.08M511 103.72A152 152 0 0 1 514.05 105.25M511 103.72L513.63 98.33M514.05 105.25L520.02 93.7M502.12 111.04A141.6 141.6 0 0 1 507.86 113.77M502.12 111.04L505.55 103.37M507.86 113.77L512.53 104.47M489.27 118.33A130 130 0 0 1 500.03 122.85M489.27 118.33L491.69 111.76M500.03 122.85L505 112.37M514.53 111.5A146.7 146.7 0 0 1 517.41 113.11M514.53 111.5L517.07 106.85M517.41 113.11L522.04 105.05M518.33 117.95A143 143 0 0 1 521.06 119.65M518.33 117.95L521.95 111.96M521.06 119.65L523.21 116.27M510.26 122.51A135 135 0 0 1 515.48 125.59M510.26 122.51L515.97 112.3M515.48 125.59L519.7 118.79M491.99 126.92A123 123 0 0 1 506.79 134.36M491.99 126.92L494.7 120.47M506.79 134.36L512.89 124.02M497.27 134.86L499.51 130.39M472.97 125.32A118.5 118.5 0 0 1 511.93 142.99M486.5 127.43A120.5 120.5 0 0 1 536.61 162.84M496.7 127.92A124 124 0 0 1 547.1 170.96M527.12 144.02A127 127 0 0 1 554.29 176.8M522.48 123.3A140.71 140.71 0 0 1 525.09 125.09M522.48 123.3L526.61 117.13M525.09 125.09L530.46 117.42M529.96 123.8A144.6 144.6 0 0 1 532.55 125.75M529.96 123.8L537.09 114.1M532.55 125.75L534.86 122.76M530.01 126.42A142.53 142.53 0 0 1 533.8 129.37M530.01 126.42L531.26 124.77M533.8 129.37L537.95 124.23M530.19 130.1A139.72 139.72 0 0 1 534.46 133.56M530.19 130.1L531.92 127.88M534.46 133.56L541.46 125.27M522.09 126.67A137.71 137.71 0 0 1 531.07 133.37M522.09 126.67L523.79 124.19M531.07 133.37L532.34 131.81M533.53 139.35A134.73 134.73 0 0 1 535.78 141.38M533.53 139.35L539.22 132.91M535.78 141.38L545.61 130.75M522.04 136.11A130 130 0 0 1 531.48 143.87M522.04 136.11L526.65 129.93M531.48 143.87L534.66 140.36M521.14 146.83L526.85 139.88M549.09 141.28A144.17 144.17 0 0 1 551.28 143.66M549.09 141.28L555.92 134.82M551.28 143.66L559.98 135.8M543.99 141.77A140.16 140.16 0 0 1 547.25 145.18M543.99 141.77L553.54 132.33M547.25 145.18L550.19 142.46M534.97 146.56A130.41 130.41 0 0 1 538.58 150.2M534.97 146.56L546.94 134.19M538.58 150.2L545.63 143.46M548.67 150.19A137.89 137.89 0 0 1 550.67 152.56M548.67 150.19L555.27 144.5M550.67 152.56L557.88 146.62M555.93 152.36A142.11 142.11 0 0 1 557.88 154.89M555.93 152.36L559.03 149.91M557.88 154.89L561.91 151.86M555.15 154.97A139.89 139.89 0 0 1 557.96 158.76M555.15 154.97L556.91 153.62M557.96 158.76L569.65 150.37M548.15 152.66A135.89 135.89 0 0 1 553.36 159.24M548.15 152.66L549.68 151.37M553.36 159.24L556.57 156.85M533.66 151.47A126 126 0 0 1 543.06 162.05M533.66 151.47L536.79 148.36M543.06 162.05L550.81 155.91M537.01 157.96L538.51 156.63M551.25 168.16A129 129 0 0 1 571.34 217.9M560.85 178.33A132 132 0 0 1 575.58 226.5M570.69 194.3A134.5 134.5 0 0 1 578.29 228.58M559.09 165.52A137 137 0 0 1 560.74 168.12M559.09 165.52L568.31 159.51M560.74 168.12L573.49 160.21M552.43 166.35A131 131 0 0 1 554.86 170.03M552.43 166.35L580.49 147.15M554.86 170.03L559.92 166.81M547.82 172.03L553.66 168.18M568.41 170.87A142.21 142.21 0 0 1 569.94 173.68M568.41 170.87L573.56 168M569.94 173.68L580.91 167.86M563.19 170.24A138 138 0 0 1 565.49 174.29M563.19 170.24L579.29 160.75M565.49 174.29L569.18 172.27M556.53 176.69L564.36 172.25M572.94 175.75A143.93 143.93 0 0 1 574.36 178.65M572.94 175.75L580.95 171.73M574.36 178.65L583.32 174.41M573.09 182.76A141.06 141.06 0 0 1 574.35 185.67M573.09 182.76L584.3 177.75M574.35 185.67L585.89 180.82M567.43 180.23A137 137 0 0 1 570 185.82M567.43 180.23L573.66 177.19M570 185.82L573.73 184.21M561.48 186.36L568.75 183.01M576.23 188.33A141.79 141.79 0 0 1 577.36 191.31M576.23 188.33L585.44 184.7M577.36 191.31L589.06 187M574.19 190.81A139 139 0 0 1 575.79 195.22M574.19 190.81L576.8 189.82M575.79 195.22L591.53 189.82M565.6 196.41L575.01 193.01M579.6 200.6A141 141 0 0 1 580.45 203.65M579.6 200.6L588.23 198.07M580.45 203.65L592.04 200.53M573.91 199.09A136 136 0 0 1 575.22 203.48M573.91 199.09L596.78 191.82M575.22 203.48L580.03 202.13M570.75 202.43L574.58 201.28M586.83 208.73A145.98 145.98 0 0 1 587.5 211.94M586.83 208.73L595.27 206.86M587.5 211.94L593.74 210.7M581.24 206.72A141 141 0 0 1 582.3 211.35M581.24 206.72L591.22 204.27M582.3 211.35L587.17 210.33M573.01 211.03L581.79 209.03M586.02 218.79A143.34 143.34 0 0 1 586.47 221.98M586.02 218.79L596.05 217.27M586.47 221.98L597.17 220.6M582.21 216.19A140 140 0 0 1 582.94 220.85M582.21 216.19L597.23 213.56M582.94 220.85L586.25 220.38M577.16 219.37L582.59 218.52M582.52 225.64A139 139 0 0 1 582.82 228.74M582.52 225.64L595.95 224.21M582.82 228.74L589.79 228.16M578.2 227.61L582.68 227.19M547.19 235.45L551.18 235.26M551.18 235.26A107 107 0 0 1 546.06 273.36M551.45 259.19A108.8 108.8 0 0 1 523.22 315.19M586.26 231.66A142.22 142.22 0 0 1 586.42 234.85M586.26 231.66L596.21 231.06M586.42 234.85L598.32 234.4M580.02 233.57A135.88 135.88 0 0 1 580.17 238.15M580.02 233.57L586.35 233.26M580.17 238.15L593.65 237.93M575.74 241.17A131.44 131.44 0 0 1 575.69 244.12M575.74 241.17L593.5 241.29M575.69 244.12L591.32 244.58M560.24 236.51A116 116 0 0 1 560.28 242.37M560.24 236.51L580.11 235.86M560.28 242.37L575.72 242.65M551.3 239.51L560.3 239.44M586.97 247.66A142.86 142.86 0 0 1 586.77 250.86M586.97 247.66L596.74 248.16M586.77 250.86L604.9 252.21M593.47 261.53A150.67 150.67 0 0 1 592.96 264.88M593.47 261.53L596.22 261.92M592.96 264.88L604.8 266.84M592.86 258.05A149.62 149.62 0 0 1 592.18 263.05M592.86 258.05L600.85 259.01M592.18 263.05L593.22 263.21M587.13 254.12A143.5 143.5 0 0 1 586.48 259.72M587.13 254.12L603.72 255.73M586.48 259.72L592.54 260.55M581.58 248.93A137.55 137.55 0 0 1 580.93 256.24M581.58 248.93L586.88 249.26M580.93 256.24L586.83 256.93M584.17 266.67A142.34 142.34 0 0 1 583.55 269.8M584.17 266.67L604.41 270.48M583.55 269.8L599.06 273.09M560.83 250.75A117 117 0 0 1 559.02 263.26M560.83 250.75L581.3 252.59M559.02 263.26L583.87 268.24M550.2 255.6L560.1 257.03M582.42 272.82A141.9 141.9 0 0 1 581.66 275.92M582.42 272.82L594.3 275.62M581.66 275.92L593.74 279.05M576.88 277.87A137.8 137.8 0 0 1 576 280.84M576.88 277.87L592.18 282.21M576 280.84L581.93 282.67M573.88 272.35A133.48 133.48 0 0 1 572.31 278.14M573.88 272.35L582.05 274.37M572.31 278.14L576.45 279.36M563.01 272.51A123 123 0 0 1 561.01 279.12M563.01 272.51L573.13 275.25M561.01 279.12L586.73 287.67M548.46 271.73L562.06 275.83M574.07 286.72A137.83 137.83 0 0 1 573 289.63M574.07 286.72L581.09 289.23M573 289.63L587.14 295.05M571.52 295.74A138.78 138.78 0 0 1 570.24 298.58M571.52 295.74L575.39 297.42M570.24 298.58L582.43 304.22M570.41 291.92A136.27 136.27 0 0 1 568.6 296.13M570.41 291.92L584.8 297.8M568.6 296.13L570.89 297.16M565.68 292.38A132.08 132.08 0 0 1 562.89 298.45M565.68 292.38L569.53 294.03M562.89 298.45L578 305.86M564.33 284.77A128 128 0 0 1 560.62 293.73M564.33 284.77L573.54 288.18M560.62 293.73L564.32 295.43M544.82 281.93L562.56 289.28M542.31 292.41A111 111 0 0 1 522.79 318.79M535.34 308.91A114 114 0 0 1 498.7 340.49M511.12 335.73A116.5 116.5 0 0 1 489.82 347.54M555.52 307.84A130.12 130.12 0 0 1 553.98 310.32M555.52 307.84L559.66 310.35M553.98 310.32L556.95 312.22M553.31 313.39A131.25 131.25 0 0 1 551.64 315.82M553.31 313.39L561.61 318.96M551.64 315.82L555.8 318.75M553.49 308.29A128.63 128.63 0 0 1 550.33 313.13M553.49 308.29L554.76 309.08M550.33 313.13L552.49 314.61M553.8 303.47A126.42 126.42 0 0 1 550.08 309.52M553.8 303.47L567.79 311.54M550.08 309.52L551.94 310.73M552.47 299.51A123.32 123.32 0 0 1 549.34 304.89M552.47 299.51L567.12 307.52M549.34 304.89L551.99 306.52M549.94 295.07A119 119 0 0 1 547.21 300.05M549.94 295.07L568.13 304.5M547.21 300.05L550.94 302.22M539.84 292.77L548.61 297.58M542.76 323.73A129.05 129.05 0 0 1 540.86 325.92M542.76 323.73L546.34 326.77M540.86 325.92L546.53 330.95M543.49 320.59A127.62 127.62 0 0 1 540.73 323.89M543.49 320.59L553.88 329M540.73 323.89L541.82 324.83M543.77 317.18A125.71 125.71 0 0 1 540.67 321.03M543.77 317.18L550.71 322.55M540.67 321.03L542.13 322.25M540.96 311.61A120.12 120.12 0 0 1 537.88 315.61M540.96 311.61L554.65 321.7M537.88 315.61L542.24 319.12M536.97 311.72A117 117 0 0 1 530.08 319.87M536.97 311.72L539.44 313.62M530.08 319.87L542.88 331.75M529.04 312L533.62 315.87M537.65 339.4A136.14 136.14 0 0 1 535.4 341.47M537.65 339.4L541.35 343.32M535.4 341.47L540.76 347.42M537.01 334.39A132.09 132.09 0 0 1 533.79 337.46M537.01 334.39L541.87 339.32M533.79 337.46L536.53 340.44M532.46 332.84A127.81 127.81 0 0 1 527.67 337.18M532.46 332.84L535.41 335.94M527.67 337.18L535.13 345.85M531.86 325.26A122 122 0 0 1 526.19 330.73M531.86 325.26L543.42 336.48M526.19 330.73L530.09 335.04M523.51 322.29L529.07 328.04M530.51 345.15A135.74 135.74 0 0 1 528.13 347.06M530.51 345.15L535.39 351.08M528.13 347.06L533.11 353.39M526.16 349.52A136.49 136.49 0 0 1 523.69 351.33M526.16 349.52L531.21 356.25M523.69 351.33L526.7 355.53M523.9 349.01A134.74 134.74 0 0 1 520.19 351.63M523.9 349.01L524.93 350.43M520.19 351.63L525.36 359.21M525.1 340.86A129 129 0 0 1 518.74 345.65M525.1 340.86L529.33 346.11M518.74 345.65L522.05 350.34M512.93 331.33L521.96 343.3M517.5 353.05A134.42 134.42 0 0 1 514.95 354.66M517.5 353.05L521.05 358.51M514.95 354.66L519.33 361.75M514.42 351A131.04 131.04 0 0 1 510.65 353.3M514.42 351L516.23 353.86M510.65 353.3L516.56 363.38M508.98 346.33A124.2 124.2 0 0 1 504.76 348.79M508.98 346.33L512.54 352.17M504.76 348.79L514.3 365.9M502.88 351.21A125.43 125.43 0 0 1 500.38 352.49M502.88 351.21L509.02 362.83M500.38 352.49L508.99 369.72M504.77 343.95A120 120 0 0 1 499.15 347.03M504.77 343.95L506.88 347.58M499.15 347.03L501.64 351.86M500.3 342.46L501.98 345.53M503.56 365.83A138.82 138.82 0 0 1 500.73 367.13M503.56 365.83L510.16 379.81M500.73 367.13L502.69 371.55M501.5 365.07A137.25 137.25 0 0 1 497.26 366.93M501.5 365.07L502.15 366.49M497.26 366.93L503.38 381.56M492.94 373.05A141.38 141.38 0 0 1 489.95 374.11M492.94 373.05L498.32 387.74M489.95 374.11L493.14 383.47M494.06 367.22A136.33 136.33 0 0 1 489.76 368.82M494.06 367.22L501.67 386.61M489.76 368.82L491.45 373.59M497.45 361.59A132.42 132.42 0 0 1 490.55 364.38M497.45 361.59L499.39 366.01M490.55 364.38L491.92 368.04M486.39 373.38A139.58 139.58 0 0 1 483.39 374.29M486.39 373.38L490.54 386.52M483.39 374.29L485.93 383M479.62 372.33A136.68 136.68 0 0 1 476.64 373.09M479.62 372.33L483.45 386.66M476.64 373.09L478.36 380.15M482.92 367.37A132.81 132.81 0 0 1 477.17 368.97M482.92 367.37L484.89 373.85M477.17 368.97L478.13 372.72M491.61 357.08A126 126 0 0 1 478.22 361.65M491.61 357.08L494.02 363.03M478.22 361.65L480.06 368.2M481.91 350.56L484.98 359.55M468.22 362.08A124.11 124.11 0 0 1 465.48 362.59M468.22 362.08L469.18 366.96M465.48 362.59L466.07 365.99M470.59 359.87A122.43 122.43 0 0 1 466.55 360.69M470.59 359.87L471.72 365M466.55 360.69L466.85 362.34M459.99 363.55A124.25 124.25 0 0 1 457.21 363.88M459.99 363.55L460.78 369.76M457.21 363.88L457.93 370.76M462.44 361.12A122.17 122.17 0 0 1 458.36 361.66M462.44 361.12L463.48 368.03M458.36 361.66L458.6 363.72M468.09 357.92A120 120 0 0 1 460.12 359.25M468.09 357.92L468.57 360.3M460.12 359.25L460.4 361.4M461.97 345.83L464.12 358.65M453.47 395.03A155 155 0 0 1 449.99 395.2M453.47 395.03L454.24 408.01M449.99 395.2L450.4 406.19M440.15 375.61A135.38 135.38 0 0 1 437.11 375.49M440.15 375.61L440.06 378.56M437.11 375.49L436.4 388.88M443.2 375.15A134.86 134.86 0 0 1 438.65 375.04M443.2 375.15L443.16 379.53M438.65 375.04L438.63 375.56M440.97 373.33A133.07 133.07 0 0 1 434.25 372.99M440.97 373.33L440.92 375.11M434.25 372.99L433.42 383.98M446.16 370.43A130.14 130.14 0 0 1 437.76 370.28M446.16 370.43L446.32 381.62M437.76 370.28L437.61 373.2M431.22 373.33A133.68 133.68 0 0 1 428.23 373.01M431.22 373.33L430.04 385.26M428.23 373.01L427.02 383M442.07 364.28A124 124 0 0 1 430.78 363.56M442.07 364.28L441.96 370.42M430.78 363.56L429.72 373.18M450.05 360.16A120 120 0 0 1 436.67 360.06M450.05 360.16L451.73 395.12M436.67 360.06L436.41 364.05M443.46 347.3L443.36 360.3M444.3 360.3A120 120 0 0 1 405.23 353.76M425.68 369.64A130.67 130.67 0 0 1 422.78 369.18M425.68 369.64L424.55 377.54M422.78 369.18L419.63 388.09M418.84 374.19A136.29 136.29 0 0 1 415.84 373.58M418.84 374.19L418.07 378.28M415.84 373.58L413.84 382.95M411.71 377.76A141.28 141.28 0 0 1 408.63 377M411.71 377.76L409.83 385.69M408.63 377L406.05 386.87M417.56 372.82A135.19 135.19 0 0 1 411.64 371.48M417.56 372.82L417.34 373.9M411.64 371.48L410.16 377.39M407.08 370.84A135.74 135.74 0 0 1 404.16 369.97M407.08 370.84L404.35 380.42M404.16 369.97L400.99 380.22M415.34 368.87A131.79 131.79 0 0 1 406.74 366.63M415.34 368.87L414.59 372.18M406.74 366.63L405.62 370.41M424.8 365.79A127 127 0 0 1 412.23 363.18M424.8 365.79L424.23 369.42M412.23 363.18L411.02 367.82M419.9 357.79L418.48 364.65M422.77 362.42A124 124 0 0 1 376.76 344.3M402.95 360.38A127 127 0 0 1 334.31 303.8M391.3 369.23A139.4 139.4 0 0 1 388.41 368.01M391.3 369.23L389.02 374.77M388.41 368.01L387.08 371.05M394.71 369.07A137.99 137.99 0 0 1 390.4 367.33M394.71 369.07L392.98 373.58M390.4 367.33L389.85 368.62M398.68 367.2A134.86 134.86 0 0 1 393.73 365.31M398.68 367.2L394.61 378.52M393.73 365.31L392.55 368.22M402.13 366.44A133 133 0 0 1 396.85 364.55M402.13 366.44L398.41 377.55M396.85 364.55L396.19 366.28M401.5 359.87L399.48 365.52M385.39 367.08A139.79 139.79 0 0 1 382.56 365.72M385.39 367.08L381.09 376.33M382.56 365.72L377.17 376.67M386.33 361.48A134.33 134.33 0 0 1 382.28 359.45M386.33 361.48L383.97 366.41M382.28 359.45L375.97 371.58M377.54 361.82A138.65 138.65 0 0 1 374.83 360.29M377.54 361.82L374.48 367.39M374.83 360.29L354.61 395.21M377.7 358.36A135.55 135.55 0 0 1 373.76 356.05M377.7 358.36L376.18 361.06M373.76 356.05L366.24 368.39M385.79 357.51A131 131 0 0 1 378.03 353.3M385.79 357.51L384.3 360.48M378.03 353.3L375.72 357.23M383.78 351.95L381.87 355.47M368.03 359.36A141.39 141.39 0 0 1 365.38 357.62M368.03 359.36L362.99 367.23M365.38 357.62L358.03 368.53M356.74 358.61A147.19 147.19 0 0 1 354.1 356.62M356.74 358.61L350.14 367.52M354.1 356.62L348.93 363.28M363.12 355.3A140.77 140.77 0 0 1 359.29 352.5M363.12 355.3L357.1 363.84M359.29 352.5L355.41 357.62M362.57 352.04A138.44 138.44 0 0 1 357.03 347.77M362.57 352.04L361.2 353.92M357.03 347.77L349.4 357.17M370.21 353.15A135 135 0 0 1 361.87 347.21M370.21 353.15L366.7 358.49M361.87 347.21L359.77 349.94M370.62 343.75L365.98 350.26M352.09 348.77A142.37 142.37 0 0 1 349.68 346.67M352.09 348.77L349.28 352.08M349.68 346.67L345.59 351.27M352.17 346.25A140.4 140.4 0 0 1 348.65 343.09M352.17 346.25L350.88 347.73M348.65 343.09L344.75 347.28M345.25 342.06A142 142 0 0 1 342.99 339.81M345.25 342.06L339.15 348.32M342.99 339.81L339.7 343.04M345.05 340A140.68 140.68 0 0 1 341.75 336.6M345.05 340L344.12 340.94M341.75 336.6L335.78 342.2M352.01 342.89A138 138 0 0 1 345.31 336.45M352.01 342.89L350.4 344.68M345.31 336.45L343.38 338.32M356.23 331.8L348.6 339.73M351.67 332.93A131 131 0 0 1 321.2 285.1M330.77 333.35A146.79 146.79 0 0 1 328.71 330.77M330.77 333.35L327.56 335.98M328.71 330.77L322.84 335.37M334.65 334.37A144.47 144.47 0 0 1 331.54 330.62M334.65 334.37L325.46 342.24M331.54 330.62L329.73 332.07M340.11 333.82A140 140 0 0 1 336.52 329.65M340.11 333.82L330.42 342.52M336.52 329.65L333.08 332.51M330.69 325.18A141.81 141.81 0 0 1 328.81 322.61M330.69 325.18L318.38 334.38M328.81 322.61L320.71 328.38M342.08 328.49A135 135 0 0 1 335.25 319.88M342.08 328.49L338.29 331.76M335.25 319.88L329.75 323.9M341.71 321.77L338.58 324.25M330.6 317.54A137.46 137.46 0 0 1 328.89 314.97M330.6 317.54L327.14 319.89M328.89 314.97L320.33 320.51M330.89 315.49A136.07 136.07 0 0 1 328.43 311.63M330.89 315.49L329.74 316.26M328.43 311.63L323.33 314.77M322.57 311.52A141.04 141.04 0 0 1 321 308.77M322.57 311.52L318.13 314.11M321 308.77L315.88 311.61M324.02 308.87A138.45 138.45 0 0 1 321.78 304.78M324.02 308.87L321.77 310.15M321.78 304.78L314.89 308.4M330.55 313A135 135 0 0 1 325.91 305.17M330.55 313L329.64 313.57M325.91 305.17L322.88 306.83M331.6 307.08L328.16 309.12M300.21 204.37A148.5 148.5 0 0 1 304.4 190.49M300.59 217.54A145.5 145.5 0 0 1 304.44 200.19M301.5 232.82A143 143 0 0 1 303.93 213.01M303.64 250.14A141 141 0 0 1 303.84 228.01M307.36 266.92A139.5 139.5 0 0 1 304.88 245.17M313.53 282.79A137.5 137.5 0 0 1 308.49 261.81M320.51 295.41A135.5 135.5 0 0 1 314.05 277.65M328.69 307.05A133.5 133.5 0 0 1 320.52 290.31M351.67 332.93A131 131 0 0 1 314.28 256.26M320.84 298.34A136.42 136.42 0 0 1 319.57 295.56M320.84 298.34L315.89 300.67M319.57 295.56L317.21 296.6M322.87 300.76A135.65 135.65 0 0 1 320.9 296.63M322.87 300.76L317.43 303.47M320.9 296.63L320.2 296.95M323.81 297.78L321.87 298.71M315.83 293.79A139.16 139.16 0 0 1 314.66 290.89M315.83 293.79L310.94 295.83M314.66 290.89L312.79 291.63M315.72 292.16A138.65 138.65 0 0 1 314.04 287.79M315.72 292.16L315.24 292.35M314.04 287.79L310.35 289.14M317.8 288.85L314.86 289.98M309.82 282.6A140.98 140.98 0 0 1 308.9 279.57M309.82 282.6L306.39 283.68M308.9 279.57L305.63 280.52M311.77 285.28A139.95 139.95 0 0 1 310.33 280.79M311.77 285.28L305.01 287.57M310.33 280.79L309.35 281.08M313.37 282.29L311.03 283.04M307.14 276.76A141.92 141.92 0 0 1 306.36 273.67M307.14 276.76L294.92 280M306.36 273.67L300.11 275.18M304.8 270.74A142.78 142.78 0 0 1 304.15 267.6M304.8 270.74L295.6 272.75M304.15 267.6L294.93 269.4M309.11 274.61A139.48 139.48 0 0 1 307.71 268.51M309.11 274.61L306.74 275.21M307.71 268.51L304.47 269.18M310.3 271.12L308.37 271.57M297.26 262.14A148.65 148.65 0 0 1 296.81 258.84M297.26 262.14L292.23 262.89M296.81 258.84L293.84 259.21M299.91 265.08A146.5 146.5 0 0 1 299.16 260.2M299.91 265.08L294.68 265.97M299.16 260.2L297.03 260.49M298.77 255.28A146.3 146.3 0 0 1 298.47 252.01M298.77 255.28L291.26 256.05M298.47 252.01L289.11 252.76M303.64 262A142.32 142.32 0 0 1 302.57 253.28M303.64 262L299.51 262.64M302.57 253.28L298.61 253.64M305.84 257.31L303.04 257.65M293.48 249A151.07 151.07 0 0 1 293.32 245.61M293.48 249L285.46 249.46M293.32 245.61L287.6 245.81M301.9 246.91A142.56 142.56 0 0 1 301.75 242.11M301.9 246.91L293.39 247.31M301.75 242.11L289.48 242.27M303.36 244.47L301.81 244.51M296.67 238.86A147.64 147.64 0 0 1 296.74 235.54M296.67 238.86L293.01 238.82M296.74 235.54L289.67 235.32M300.25 237.28A144.08 144.08 0 0 1 300.43 232.43M300.25 237.28L296.7 237.2M300.43 232.43L288.91 231.79M303.4 234.97L300.32 234.85M290.59 224.94A154.47 154.47 0 0 1 290.98 221.49M290.59 224.94L285.21 224.4M290.98 221.49L287.41 221.05M292.69 228.58A152.07 152.07 0 0 1 293.17 223.48M292.69 228.58L283.63 227.88M293.17 223.48L290.78 223.21M298.45 226.55A146.5 146.5 0 0 1 299.33 219.2M298.45 226.55L292.91 226.03M299.33 219.2L292.83 218.25M302.32 223.29L298.85 222.87M297.54 215.56A148.83 148.83 0 0 1 298.13 212.27M297.54 215.56L289.87 214.27M298.13 212.27L293.5 211.38M298.98 214.12A147.66 147.66 0 0 1 299.94 209.24M298.98 214.12L297.82 213.91M299.94 209.24L293.42 207.84M301.56 212.1L299.44 211.68M297.33 205.21A151.1 151.1 0 0 1 298.15 201.92M297.33 205.21L289.15 203.26M298.15 201.92L288.32 199.33M300.26 204.19L297.73 203.56M298.52 194.92A152.67 152.67 0 0 1 299.58 191.66M298.52 194.92L293.4 193.33M299.58 191.66L292.68 189.34M299.21 198.69A150.94 150.94 0 0 1 300.69 193.82M299.21 198.69L289.13 195.8M300.69 193.82L299.04 193.29M302.26 196.96L299.93 196.25" fill="none" stroke="#141414" stroke-width="1.05" stroke-linecap="square"/>
</g>
<g id="markers">
<rect x="-3.1" y="-3.1" width="6.2" height="6.2" fill="#fff" stroke="#595959" stroke-width="1.3" transform="translate(312.3 118.07) rotate(312.8)"/>
<rect x="-3.1" y="-3.1" width="6.2" height="6.2" fill="#fff" stroke="#595959" stroke-width="1.3" transform="translate(326.75 104.12) rotate(319.2)"/>
<rect x="-3.6" y="-3.6" width="7.2" height="7.2" fill="#595959" transform="translate(342.66 91.86) rotate(325.6)"/>
<rect x="-3.1" y="-3.1" width="6.2" height="6.2" fill="#fff" stroke="#595959" stroke-width="1.3" transform="translate(359.56 81.61) rotate(331.9)"/>
<rect x="-3.1" y="-3.1" width="6.2" height="6.2" fill="#fff" stroke="#595959" stroke-width="1.3" transform="translate(381.59 71.68) rotate(339.6)"/>
<rect x="-3.1" y="-3.1" width="6.2" height="6.2" fill="#fff" stroke="#595959" stroke-width="1.3" transform="translate(386.62 69.9) rotate(341.3)"/>
<rect x="-3.1" y="-3.1" width="6.2" height="6.2" fill="#fff" stroke="#595959" stroke-width="1.3" transform="translate(396.83 66.78) rotate(344.7)"/>
<rect x="-3.1" y="-3.1" width="6.2" height="6.2" fill="#fff" stroke="#595959" stroke-width="1.3" transform="translate(401.69 65.52) rotate(346.3)"/>
<rect x="-3.6" y="-3.6" width="7.2" height="7.2" fill="#595959" transform="translate(406.28 64.46) rotate(347.8)"/>
<rect x="-3.1" y="-3.1" width="6.2" height="6.2" fill="#fff" stroke="#595959" stroke-width="1.3" transform="translate(413.06 63.13) rotate(350)"/>
<rect x="-3.1" y="-3.1" width="6.2" height="6.2" fill="#fff" stroke="#595959" stroke-width="1.3" transform="translate(504.06 70.61) rotate(19.4)"/>
<rect x="-3.1" y="-3.1" width="6.2" height="6.2" fill="#fff" stroke="#595959" stroke-width="1.3" transform="translate(518.9 76.6) rotate(24.5)"/>
<rect x="-3.1" y="-3.1" width="6.2" height="6.2" fill="#fff" stroke="#595959" stroke-width="1.3" transform="translate(526.25 80.15) rotate(27.1)"/>
<rect x="-3.1" y="-3.1" width="6.2" height="6.2" fill="#fff" stroke="#595959" stroke-width="1.3" transform="translate(536.96 86.1) rotate(31)"/>
<rect x="-3.1" y="-3.1" width="6.2" height="6.2" fill="#fff" stroke="#595959" stroke-width="1.3" transform="translate(550.04 94.76) rotate(36)"/>
<rect x="-3.1" y="-3.1" width="6.2" height="6.2" fill="#fff" stroke="#595959" stroke-width="1.3" transform="translate(555.06 98.54) rotate(38)"/>
<rect x="-3.1" y="-3.1" width="6.2" height="6.2" fill="#fff" stroke="#595959" stroke-width="1.3" transform="translate(564.44 106.4) rotate(41.9)"/>
<rect x="-3.1" y="-3.1" width="6.2" height="6.2" fill="#fff" stroke="#595959" stroke-width="1.3" transform="translate(571.95 113.54) rotate(45.2)"/>
<rect x="-3.1" y="-3.1" width="6.2" height="6.2" fill="#fff" stroke="#595959" stroke-width="1.3" transform="translate(589.47 134.05) rotate(53.8)"/>
<rect x="-3.1" y="-3.1" width="6.2" height="6.2" fill="#fff" stroke="#595959" stroke-width="1.3" transform="translate(597.03 145.23) rotate(58.1)"/>
<rect x="-3.1" y="-3.1" width="6.2" height="6.2" fill="#fff" stroke="#595959" stroke-width="1.3" transform="translate(606.54 162.57) rotate(64.4)"/>
<rect x="-3.1" y="-3.1" width="6.2" height="6.2" fill="#fff" stroke="#595959" stroke-width="1.3" transform="translate(612.92 177.59) rotate(69.6)"/>
<rect x="-3.1" y="-3.1" width="6.2" height="6.2" fill="#fff" stroke="#595959" stroke-width="1.3" transform="translate(622.03 212.47) rotate(81.1)"/>
<rect x="-3.6" y="-3.6" width="7.2" height="7.2" fill="#595959" transform="translate(624.15 236.22) rotate(88.7)"/>
<rect x="-3.1" y="-3.1" width="6.2" height="6.2" fill="#fff" stroke="#595959" stroke-width="1.3" transform="translate(619.66 280.46) rotate(102.9)"/>
<rect x="-3.1" y="-3.1" width="6.2" height="6.2" fill="#fff" stroke="#595959" stroke-width="1.3" transform="translate(606.54 318.03) rotate(115.6)"/>
<rect x="-3.6" y="-3.6" width="7.2" height="7.2" fill="#595959" transform="translate(604.59 321.97) rotate(117)"/>
<rect x="-3.6" y="-3.6" width="7.2" height="7.2" fill="#595959" transform="translate(601.03 328.61) rotate(119.4)"/>
<rect x="-3.1" y="-3.1" width="6.2" height="6.2" fill="#fff" stroke="#595959" stroke-width="1.3" transform="translate(593.09 341.42) rotate(124.2)"/>
<rect x="-3.6" y="-3.6" width="7.2" height="7.2" fill="#595959" transform="translate(590.76 344.77) rotate(125.5)"/>
<rect x="-3.6" y="-3.6" width="7.2" height="7.2" fill="#595959" transform="translate(588.16 348.32) rotate(126.9)"/>
<rect x="-3.6" y="-3.6" width="7.2" height="7.2" fill="#595959" transform="translate(582.92 354.97) rotate(129.6)"/>
<rect x="-3.6" y="-3.6" width="7.2" height="7.2" fill="#595959" transform="translate(556.78 380.7) rotate(141.3)"/>
<rect x="-3.6" y="-3.6" width="7.2" height="7.2" fill="#595959" transform="translate(540.16 392.53) rotate(147.8)"/>
<rect x="-3.1" y="-3.1" width="6.2" height="6.2" fill="#fff" stroke="#595959" stroke-width="1.3" transform="translate(525.97 400.59) rotate(153)"/>
<rect x="-3.6" y="-3.6" width="7.2" height="7.2" fill="#595959" transform="translate(389.31 411.59) rotate(197.8)"/>
<rect x="-3.6" y="-3.6" width="7.2" height="7.2" fill="#595959" transform="translate(362.63 400.59) rotate(207)"/>
<rect x="-3.6" y="-3.6" width="7.2" height="7.2" fill="#595959" transform="translate(342.66 388.74) rotate(214.4)"/>
<rect x="-3.6" y="-3.6" width="7.2" height="7.2" fill="#595959" transform="translate(318.43 368.83) rotate(224.4)"/>
<rect x="-3.6" y="-3.6" width="7.2" height="7.2" fill="#595959" transform="translate(314.46 364.82) rotate(226.2)"/>
<rect x="-3.6" y="-3.6" width="7.2" height="7.2" fill="#595959" transform="translate(292.74 337.22) rotate(237.4)"/>
<rect x="-3.1" y="-3.1" width="6.2" height="6.2" fill="#fff" stroke="#595959" stroke-width="1.3" transform="translate(285.31 324.48) rotate(242.1)"/>
<rect x="-3.6" y="-3.6" width="7.2" height="7.2" fill="#595959" transform="translate(283.3 320.57) rotate(243.5)"/>
<rect x="-3.6" y="-3.6" width="7.2" height="7.2" fill="#595959" transform="translate(281.39 316.61) rotate(244.9)"/>
<rect x="-3.6" y="-3.6" width="7.2" height="7.2" fill="#595959" transform="translate(271.37 289.89) rotate(254)"/>
<rect x="-3.6" y="-3.6" width="7.2" height="7.2" fill="#595959" transform="translate(268.33 277.7) rotate(258)"/>
<rect x="-3.6" y="-3.6" width="7.2" height="7.2" fill="#595959" transform="translate(264.91 253.79) rotate(265.7)"/>
<rect x="-3.6" y="-3.6" width="7.2" height="7.2" fill="#595959" transform="translate(267.03 209.68) rotate(279.8)"/>
<rect x="-3.6" y="-3.6" width="7.2" height="7.2" fill="#595959" transform="translate(269.37 198.3) rotate(283.5)"/>
<rect x="-3.6" y="-3.6" width="7.2" height="7.2" fill="#595959" transform="translate(271.37 190.71) rotate(286)"/>
<polygon points="557.21,106.21 556.2,109.06 558.43,111.12 555.4,111.03 554.14,113.79 553.28,110.88 550.27,110.53 552.77,108.82 552.17,105.85 554.57,107.7" fill="#595959"/>
<polygon points="603.69,313.27 600.67,313.06 599.29,315.76 598.56,312.81 595.56,312.33 598.14,310.73 597.67,307.74 599.99,309.69 602.69,308.32 601.55,311.13" fill="#595959"/>
<polygon points="312.81,356.23 314.23,353.55 312.33,351.2 315.31,351.73 316.97,349.19 317.39,352.19 320.31,352.98 317.59,354.3 317.74,357.33 315.64,355.15" fill="#595959"/>
<polygon points="290.39,324.21 292.37,321.92 291.04,319.2 293.83,320.38 296.01,318.27 295.75,321.29 298.43,322.71 295.48,323.4 294.96,326.38 293.39,323.79" fill="#595959"/>
<polygon points="270.34,218.63 273.29,217.93 273.8,214.94 275.38,217.53 278.38,217.09 276.4,219.39 277.75,222.1 274.95,220.94 272.79,223.06 273.03,220.04" fill="#595959"/>
<polygon points="272.28,206.55 275.27,206.06 275.98,203.11 277.38,205.8 280.4,205.57 278.27,207.73 279.43,210.53 276.72,209.17 274.41,211.14 274.86,208.14" fill="#595959"/>
</g>
<path d="M497.06 480.27A245.7 245.7 0 0 1 464.86 485.14" fill="none" stroke="#000" stroke-width="4"/>
<path d="M457.6 515.4V494" stroke="#be1e2d" stroke-width="2.6" fill="none"/><path d="M457.6 486.3L462.2 496.8L457.6 495.4L453 496.8Z" fill="#be1e2d"/>
<path d="M254.9 423.4L262.5 416.2" stroke="#222" stroke-width="1.4" fill="none"/><path d="M265.8 413L263.6 420.3L262 416.8L258.4 415.3Z" fill="#222"/>
<path d="M139.7 19.7H157.9M139.7 17.9V21.5M157.9 17.9V21.5" stroke="#555" stroke-width="0.9" fill="none"/>
<g id="labels">
<text x="39.5" y="26.6" font-size="15" fill="#111" text-anchor="start" textLength="89.9" lengthAdjust="spacing">Tree scale : 1</text>
<text x="145.7" y="69" font-size="15" fill="#808080" text-anchor="start" textLength="125.3" lengthAdjust="spacing">Other and/or N.D.</text>
<text x="582.8" y="22.4" font-size="15" fill="#f6b262" text-anchor="start" textLength="90" lengthAdjust="spacing">Promiscuous</text>
<text x="603.8" y="41.6" font-size="15" fill="#f6b262" text-anchor="start" textLength="47" lengthAdjust="spacing">pocket</text>
<text x="102.9" y="176" font-size="15" fill="#ef7a70" text-anchor="start" textLength="94.5" lengthAdjust="spacing">UTP-selective</text>
<text x="126" y="195.9" font-size="15" fill="#ef7a70" text-anchor="start" textLength="46.6" lengthAdjust="spacing">pocket</text>
<text x="242.3" y="492.2" font-size="15" fill="#8a2f82" text-anchor="start" textLength="96" lengthAdjust="spacing">CTP-selective</text>
<text x="266.2" y="511.1" font-size="15" fill="#8a2f82" text-anchor="start" textLength="47.8" lengthAdjust="spacing">pocket</text>
<text x="583.5" y="453.6" font-size="15" fill="#4b2a5a" text-anchor="start" textLength="78" lengthAdjust="spacing">Asp pocket</text>
<text x="487" y="504.5" font-size="15" fill="#111" text-anchor="start" textLength="109" lengthAdjust="spacing">Basal Euk clade</text>
<text x="408.5" y="535.6" font-size="15" fill="#c8323a" text-anchor="start" textLength="97.6" lengthAdjust="spacing">Emergence of</text>
<text x="387" y="554.7" font-size="15" fill="#c8323a" text-anchor="start" textLength="140.6" lengthAdjust="spacing">substrate selectivity</text>
<text x="195.8" y="442.8" font-size="15" fill="#111" text-anchor="start" textLength="62" lengthAdjust="spacing">EukVip13</text>
</g>
<g id="legend">
<rect x="0" y="261.7" width="15.2" height="14.9" fill="#2368a8" stroke="#c9cfcc" stroke-width="0.5"/>
<text x="23.1" y="274.2" font-size="15" fill="#111" text-anchor="start" textLength="56.3" lengthAdjust="spacing">Bacteria</text>
<rect x="0" y="291.45" width="15.2" height="14.9" fill="#5bc2e2" stroke="#c9cfcc" stroke-width="0.5"/>
<text x="23.1" y="303.95" font-size="15" fill="#111" text-anchor="start" textLength="56.8" lengthAdjust="spacing">Archaea</text>
<rect x="0" y="321.2" width="15.2" height="14.9" fill="#d6f2e0" stroke="#c9cfcc" stroke-width="0.5"/>
<text x="23.1" y="333.7" font-size="15" fill="#111" text-anchor="start" textLength="138.2" lengthAdjust="spacing">TSAR and other Euk</text>
<rect x="0" y="350.95" width="15.2" height="14.9" fill="#9ad6a4" stroke="#c9cfcc" stroke-width="0.5"/>
<text x="23.1" y="363.45" font-size="15" fill="#111" text-anchor="start" textLength="38.4" lengthAdjust="spacing">Fungi</text>
<rect x="0" y="380.7" width="15.2" height="14.9" fill="#2a6b33" stroke="#c9cfcc" stroke-width="0.5"/>
<text x="23.1" y="393.2" font-size="15" fill="#111" text-anchor="start" textLength="105" lengthAdjust="spacing">Archaeplastida</text>
<rect x="0" y="410.45" width="15.2" height="14.9" fill="#158c78" stroke="#c9cfcc" stroke-width="0.5"/>
<text x="23.1" y="422.95" font-size="15" fill="#111" text-anchor="start" textLength="74.8" lengthAdjust="spacing">Metazoans</text>
</g>
</svg>
</body></html>
